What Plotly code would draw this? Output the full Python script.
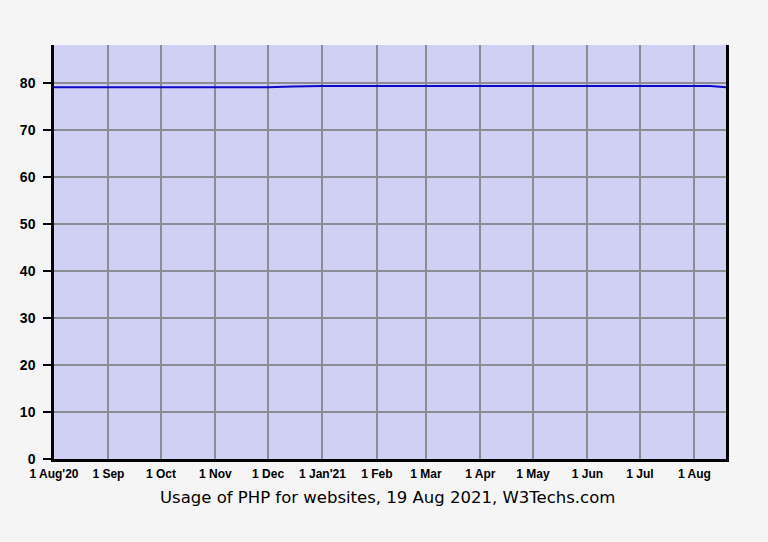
import plotly.graph_objects as go

dates = ["2020-08-01", "2020-09-01", "2020-10-01", "2020-11-01", "2020-12-01",
         "2020-12-15", "2021-01-01", "2021-02-01", "2021-03-01", "2021-04-01",
         "2021-05-01", "2021-06-01", "2021-07-01", "2021-08-01", "2021-08-10",
         "2021-08-19"]
usage = [79.0, 79.0, 79.0, 79.0, 79.0, 79.2, 79.3, 79.3, 79.3, 79.3,
         79.3, 79.3, 79.3, 79.3, 79.3, 79.0]

tick_dates = ["2020-08-01", "2020-09-01", "2020-10-01", "2020-11-01", "2020-12-01",
              "2021-01-01", "2021-02-01", "2021-03-01", "2021-04-01", "2021-05-01",
              "2021-06-01", "2021-07-01", "2021-08-01"]
tick_labels = ["1 Aug'20", "1 Sep", "1 Oct", "1 Nov", "1 Dec", "1 Jan'21", "1 Feb",
               "1 Mar", "1 Apr", "1 May", "1 Jun", "1 Jul", "1 Aug"]
y_ticks = [0, 10, 20, 30, 40, 50, 60, 70, 80]
title_text = "Usage of PHP for websites, 19 Aug 2021, W3Techs.com"

fig = go.Figure()
fig.add_trace(go.Scatter(
    x=dates, y=usage, mode="lines",
    line=dict(color="#0a0ac8", width=2),
    hoverinfo="skip", showlegend=False,
))

fig.update_layout(
    width=768, height=542,
    margin=dict(l=54, r=42, t=45, b=83),
    paper_bgcolor="#f5f5f5",
    plot_bgcolor="#d0d0f5",
    font=dict(family="Liberation Sans, Arial, sans-serif", color="#000000"),
    xaxis=dict(
        range=["2020-08-01", "2021-08-19"],
        tickvals=tick_dates, ticktext=tick_labels,
        tickfont=dict(size=12, family="Liberation Sans, Arial, sans-serif", weight="bold"),
        ticklabelstandoff=2,
        showgrid=True, gridcolor="#8c8c94", gridwidth=1.5,
        showline=True, linecolor="#000000", linewidth=2.5,
        ticks="", zeroline=False, fixedrange=True,
    ),
    yaxis=dict(
        range=[0, 88],
        tickvals=y_ticks,
        tickfont=dict(size=14, family="Liberation Sans, Arial, sans-serif", weight="bold"),
        ticklabelstandoff=5,
        showgrid=True, gridcolor="#8c8c94", gridwidth=1.5,
        showline=True, linecolor="#000000", linewidth=2.5, mirror=True,
        ticks="outside", ticklen=8, tickwidth=2, tickcolor="#000000",
        zeroline=False, fixedrange=True,
    ),
    annotations=[dict(
        text=title_text, xref="paper", yref="paper", x=0.497, y=-0.092,
        xanchor="center", yanchor="middle", showarrow=False,
        font=dict(size=16.5, family="DejaVu Sans, Verdana, sans-serif", color="#000000"),
    )],
)

fig.write_html(
    "out.html",
    config={"displayModeBar": False},
    post_script="document.body.style.margin='0';document.body.style.background='#f5f5f5';",
)
